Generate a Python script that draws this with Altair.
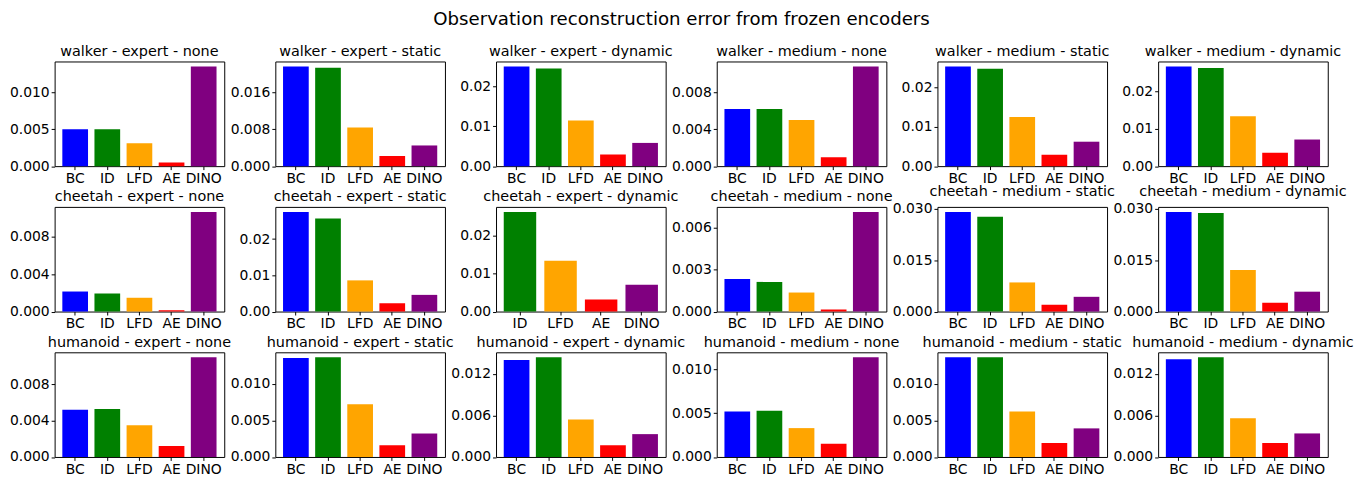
import altair as alt
import pandas as pd

methods = ["BC", "ID", "LFD", "AE", "DINO"]
bar_colors = ["blue", "green", "orange", "red", "purple"]

panel_titles = [
    "walker - expert - none", "walker - expert - static", "walker - expert - dynamic",
    "walker - medium - none", "walker - medium - static", "walker - medium - dynamic",
    "cheetah - expert - none", "cheetah - expert - static", "cheetah - expert - dynamic",
    "cheetah - medium - none", "cheetah - medium - static", "cheetah - medium - dynamic",
    "humanoid - expert - none", "humanoid - expert - static", "humanoid - expert - dynamic",
    "humanoid - medium - none", "humanoid - medium - static", "humanoid - medium - dynamic",
]

# values per panel, in the order BC, ID, LFD, AE, DINO (None = not shown)
walker_expert_none = [0.0050, 0.0050, 0.0031, 0.0005, 0.0135]
walker_expert_static = [0.0217, 0.0214, 0.0084, 0.0022, 0.0045]
walker_expert_dynamic = [0.0249, 0.0244, 0.0114, 0.0029, 0.0058]
walker_medium_none = [0.0062, 0.0062, 0.0050, 0.00096, 0.0108]
walker_medium_static = [0.0253, 0.0247, 0.0125, 0.0029, 0.0062]
walker_medium_dynamic = [0.0266, 0.0262, 0.0133, 0.0036, 0.0071]
cheetah_expert_none = [0.00215, 0.00194, 0.00148, 0.00014, 0.0107]
cheetah_expert_static = [0.0275, 0.0257, 0.0086, 0.0023, 0.0046]
cheetah_expert_dynamic = [None, 0.0263, 0.0134, 0.0032, 0.0071]
cheetah_medium_none = [0.00233, 0.00212, 0.00136, 0.00014, 0.00713]
cheetah_medium_static = [0.0291, 0.0277, 0.0085, 0.0020, 0.0043]
cheetah_medium_dynamic = [0.0291, 0.0288, 0.0121, 0.0026, 0.0058]
humanoid_expert_none = [0.0052, 0.0053, 0.0035, 0.0012, 0.0110]
humanoid_expert_static = [0.0135, 0.0136, 0.0072, 0.0016, 0.0032]
humanoid_expert_dynamic = [0.0140, 0.0144, 0.0054, 0.0017, 0.0033]
humanoid_medium_none = [0.0052, 0.0053, 0.0033, 0.0015, 0.0114]
humanoid_medium_static = [0.0136, 0.0136, 0.0062, 0.0019, 0.0039]
humanoid_medium_dynamic = [0.0141, 0.0144, 0.0056, 0.0020, 0.0034]

panel_values = [
    walker_expert_none, walker_expert_static, walker_expert_dynamic,
    walker_medium_none, walker_medium_static, walker_medium_dynamic,
    cheetah_expert_none, cheetah_expert_static, cheetah_expert_dynamic,
    cheetah_medium_none, cheetah_medium_static, cheetah_medium_dynamic,
    humanoid_expert_none, humanoid_expert_static, humanoid_expert_dynamic,
    humanoid_medium_none, humanoid_medium_static, humanoid_medium_dynamic,
]

# y tick labels per panel
panel_ticks = [
    [0.0, 0.005, 0.010], [0.0, 0.008, 0.016], [0.0, 0.01, 0.02],
    [0.0, 0.004, 0.008], [0.0, 0.01, 0.02], [0.0, 0.01, 0.02],
    [0.0, 0.004, 0.008], [0.0, 0.01, 0.02], [0.0, 0.01, 0.02],
    [0.0, 0.003, 0.006], [0.0, 0.015, 0.030], [0.0, 0.015, 0.030],
    [0.0, 0.004, 0.008], [0.0, 0.005, 0.010], [0.0, 0.006, 0.012],
    [0.0, 0.005, 0.010], [0.0, 0.005, 0.010], [0.0, 0.006, 0.012],
]
panel_formats = [
    ".3f", ".3f", ".2f", ".3f", ".2f", ".2f",
    ".3f", ".2f", ".2f", ".3f", ".3f", ".3f",
    ".3f", ".3f", ".3f", ".3f", ".3f", ".3f",
]

W, H = 171, 105.5
FONT = "DejaVu Sans"


def panel(i):
    vals = panel_values[i]
    cats = [m for m, v in zip(methods, vals) if v is not None]
    nums = [v for v in vals if v is not None]
    df = pd.DataFrame({"method": cats, "value": nums})
    n = len(cats)
    ymax = max(nums) * 1.05
    return (
        alt.Chart(df)
        .mark_bar()
        .encode(
            x=alt.X(
                "method:N",
                sort=cats,
                scale=alt.Scale(domain=cats, paddingInner=0.2, paddingOuter=0.05 * (n - 0.2)),
                axis=alt.Axis(title=None, labelAngle=0),
            ),
            y=alt.Y(
                "value:Q",
                scale=alt.Scale(domain=[0, ymax], nice=False, zero=True),
                axis=alt.Axis(title=None, values=panel_ticks[i], format=panel_formats[i]),
            ),
            color=alt.Color(
                "method:N",
                scale=alt.Scale(domain=methods, range=bar_colors),
                legend=None,
            ),
        )
        .properties(
            width=W,
            height=H,
            title=alt.TitleParams(panel_titles[i], fontSize=14.5, font=FONT,
                                  fontWeight="normal", color="black", offset=2),
        )
    )


chart = (
    alt.concat(*[panel(i) for i in range(18)], columns=6,
               spacing={"row": 40.6, "column": 51.5}, bounds="flush")
    .properties(
        title=alt.TitleParams("Observation reconstruction error from frozen encoders",
                              fontSize=18.3, font=FONT, fontWeight="normal",
                              color="black", anchor="middle", offset=14),
        padding={"left": 0, "top": 0, "right": 5, "bottom": 0},
    )
    .configure(font=FONT)
    .configure_view(stroke="black", strokeWidth=1)
    .configure_axis(
        domain=False, grid=False, ticks=True, tickColor="black", tickSize=3.5,
        labelFont=FONT, labelFontSize=14, labelColor="black", labelPadding=2,
    )
)

chart.save("out.html", embed_options={"renderer": "svg", "actions": False})
